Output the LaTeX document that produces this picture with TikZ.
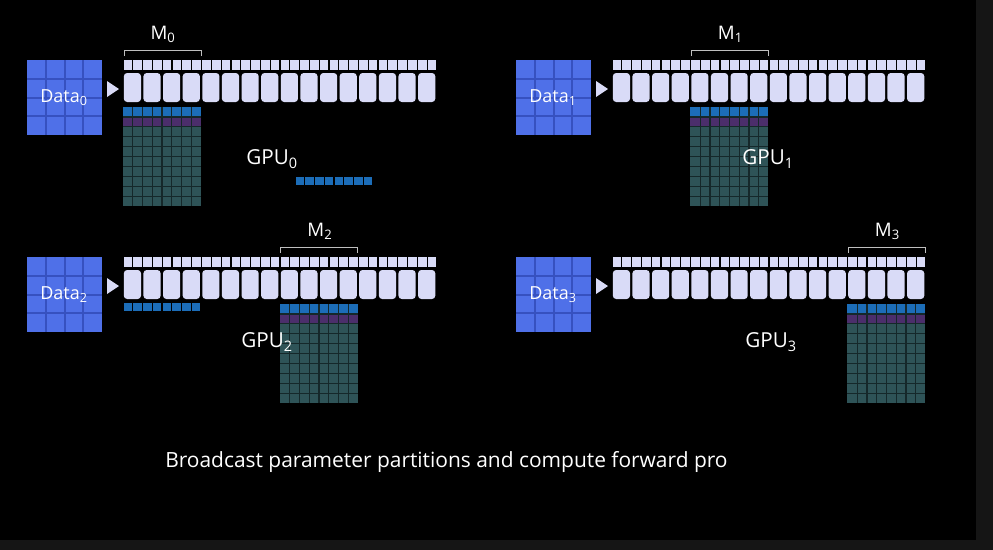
\documentclass[tikz,border=0pt]{standalone}
\usepackage{fontspec}
\setmainfont{Open Sans}
\definecolor{bgout}{HTML}{151515}
\definecolor{databl}{HTML}{4F70E8}
\definecolor{dataln}{HTML}{3651C0}
\definecolor{lcell}{HTML}{D9DBF7}
\definecolor{teal}{HTML}{2E5357}
\definecolor{tealln}{HTML}{15282A}
\definecolor{pblue}{HTML}{1C6DB8}
\definecolor{ppurp}{HTML}{4B2E6B}
\tikzset{
  lbl/.style={text=white,inner sep=0pt,anchor=west},
  cellline/.style={line width=0.9pt},
}
\newcommand\gpupanel[6]{% ox, oy, idx, k, gx, gy
  \begin{scope}[shift={(#1,#2)}]
    \fill[databl] (27,60) rectangle (102,135);
    \foreach \i in {1,2,3}{
      \draw[dataln,line width=1.5pt] (27+\i*18.75,60) -- (27+\i*18.75,135);
      \draw[dataln,line width=1.5pt] (27,60+\i*18.75) -- (102,60+\i*18.75);}
    \node[lbl,font=\fontsize{13.5}{14}\selectfont] (d#3) at (40,98) {Data\textsubscript{#3}};
    \fill[lcell] (107,81) -- (119,89) -- (107,97) -- cycle;
    \foreach \j in {0,...,31}{
      \fill[lcell] (123+\j*9.81+0.6,60) rectangle (123+\j*9.81+9.21,70);}
    \foreach \j in {0,...,15}{
      \fill[lcell,rounded corners=2.5pt] (123+\j*19.62+0.8,73) rectangle (123+\j*19.62+18.0,102);}
    \draw[white!75!black,line width=0.7pt] (123+#4*19.62+1,56) -- (123+#4*19.62+1,50) -- (123+#4*19.62+78,50) -- (123+#4*19.62+78,56);
    \node[lbl,anchor=center,font=\fontsize{14}{15}\selectfont] (m#3) at (123+#4*19.62+40,34) {M\textsubscript{#3}};
    \begin{scope}[shift={(123+#4*19.62,107)}]
      \fill[teal] (0,0) rectangle (78,99);
      \fill[pblue] (0,0) rectangle (78,10);
      \fill[ppurp] (0,10) rectangle (78,20);
      \foreach \c in {1,...,7}{\draw[tealln,cellline] (\c*9.75,0) -- (\c*9.75,99);}
      \foreach \r in {1,...,9}{\draw[tealln,cellline] (0,\r*9.9) -- (78,\r*9.9);}
    \end{scope}
    \node[lbl,font=\fontsize{15.5}{16}\selectfont] (g#3) at (#5,#6) {GPU\textsubscript{#3}};
  \end{scope}}
\newcommand\bluerow[2]{%
  \foreach \j in {0,...,7}{
    \fill[pblue] (#1+\j*9.75+0.6,#2) rectangle (#1+\j*9.75+9.15,#2+8);}}
\begin{document}
\begin{tikzpicture}[x=0.75pt,y=-0.75pt]
\useasboundingbox (0,0) rectangle (993,550);
\fill[bgout] (0,0) rectangle (993,550);
\fill[black] (0,0) rectangle (976,540);
\gpupanel{0}{0}{0}{0}{246}{159}
\gpupanel{489}{0}{1}{4}{253}{159}
\gpupanel{0}{197}{2}{8}{241}{145}
\gpupanel{489}{197}{3}{12}{256}{145}
\bluerow{295}{177}
\bluerow{123}{303}
\node[lbl,font=\fontsize{15.7}{17}\selectfont] (cap) at (165,462) {Broadcast parameter partitions and compute forward pro};
\end{tikzpicture}
\end{document}
